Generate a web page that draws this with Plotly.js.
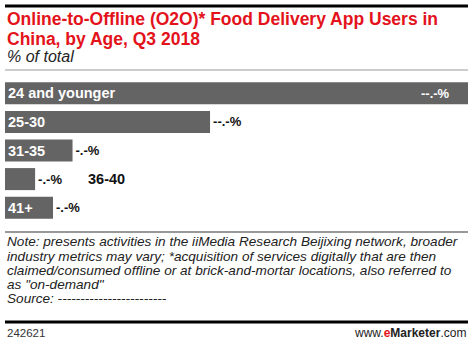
<!DOCTYPE html>
<html>
<head>
<meta charset="utf-8">
<script src="https://cdn.plot.ly/plotly-3.0.1.min.js"></script>
<style>html,body{margin:0;padding:0;background:#fff;}#chart{width:474px;height:345px;}</style>
</head>
<body>
<div id="chart"></div>
<script>
// ---- data ----
const categories = ["24 and younger", "25-30", "31-35", "36-40", "41+"];
const values = [56.9, 25.2, 8.3, 3.7, 5.9];           // estimated (reference hides values)
const valueLabels = ["--.-%", "--.-%", "-.-%", "-.-%", "-.-%"];
const titleLines = ["Online-to-Offline (O2O)* Food Delivery App Users in", "China, by Age, Q3 2018"];
const subtitle = "% of total";
const noteLines = [
  "Note: presents activities in the iiMedia Research Beijixing network, broader",
  "industry metrics may vary; *acquisition of services digitally that are then",
  "claimed/consumed offline or at brick-and-mortar locations, also referred to",
  "as \"on-demand\"",
  "Source: ------------------------"
];
const chartId = "242621";

// ---- layout helpers ----
const W = 474, H = 345;
const M = {l: 5, r: 6, t: 79, b: 123};
const plotH = H - M.t - M.b, plotW = W - M.l - M.r;
const py = y => (H - M.b - y) / plotH;   // pixel y -> paper y
const px = x => (x - M.l) / plotW;        // pixel x -> paper x

const FONT = "Liberation Sans, Arial, sans-serif";
const barColor = "#646464";
const red = "#e3121b";

const trace = {
  type: "bar",
  orientation: "h",
  y: categories,
  x: values,
  marker: {color: barColor, line: {width: 0}},
  text: valueLabels.map((t, i) => i === 0 ? "" : t),
  textposition: "outside",
  textfont: {family: FONT, size: 13, color: "#111111", weight: "bold"},
  cliponaxis: false,
  hoverinfo: "none"
};

const annotations = [];
// value label inside the longest bar
annotations.push({
  text: "<b>" + valueLabels[0] + "</b>", xref: "x", yref: "y", x: values[0], y: categories[0],
  xanchor: "right", yanchor: "middle", showarrow: false, xshift: -16,
  font: {family: FONT, size: 13, color: "#ffffff"}
});
// title lines
const titleY = [19.3, 39.0];
titleLines.forEach((t, i) => annotations.push({
  text: "<b>" + t + "</b>", xref: "paper", yref: "paper", x: px(5), y: py(titleY[i]),
  xanchor: "left", yanchor: "middle", showarrow: false,
  font: {family: FONT, size: 17.5, color: red}
}));
annotations.push({
  text: "<i>" + subtitle + "</i>", xref: "paper", yref: "paper", x: px(5), y: py(56.5),
  xanchor: "left", yanchor: "middle", showarrow: false,
  font: {family: FONT, size: 16, color: "#222"}
});
// category labels
categories.forEach((c, i) => {
  const inside = i !== 3;
  annotations.push({
    text: "<b>" + c + "</b>", xref: "x", yref: "y", x: inside ? 0 : values[i], y: c,
    xanchor: "left", yanchor: "middle", showarrow: false,
    xshift: inside ? 1 : 51,
    font: {family: FONT, size: 14.5, color: inside ? "#ffffff" : "#111111"}
  });
});
// notes
const noteY = [241.7, 256.0, 270.2, 284.2, 298.3];
noteLines.forEach((t, i) => annotations.push({
  text: "<i>" + t + "</i>", xref: "paper", yref: "paper", x: px(5), y: py(noteY[i]),
  xanchor: "left", yanchor: "middle", showarrow: false,
  font: {family: FONT, size: 13.6, color: "#222"}
}));
// footer
annotations.push({
  text: chartId, xref: "paper", yref: "paper", x: px(5), y: py(333),
  xanchor: "left", yanchor: "middle", showarrow: false,
  font: {family: FONT, size: 11.5, color: "#333"}
});
annotations.push({
  text: "www.<b><span style='color:" + red + "'>e</span>Marketer</b>.com", xref: "paper", yref: "paper", x: px(468), y: py(333),
  xanchor: "right", yanchor: "middle", showarrow: false,
  font: {family: FONT, size: 12, color: "#222"}
});

const shapes = [
  {type: "line", xref: "paper", yref: "paper", x0: px(5), x1: px(468), y0: py(6), y1: py(6), line: {color: "#000", width: 3}},
  {type: "line", xref: "paper", yref: "paper", x0: px(5), x1: px(468), y0: py(70), y1: py(70), line: {color: "#999", width: 1}},
  {type: "line", xref: "paper", yref: "paper", x0: px(5), x1: px(468), y0: py(232), y1: py(232), line: {color: "#777", width: 1.5}},
  {type: "line", xref: "paper", yref: "paper", x0: px(5), x1: px(468), y0: py(322), y1: py(322), line: {color: "#000", width: 3}}
];

const layout = {
  width: W, height: H,
  margin: M,
  paper_bgcolor: "#fff", plot_bgcolor: "#fff",
  showlegend: false,
  bargap: 0.23,
  xaxis: {range: [0, values[0]], visible: false, fixedrange: true},
  yaxis: {autorange: "reversed", visible: false, fixedrange: true, type: "category"},
  annotations: annotations,
  shapes: shapes,
  font: {family: FONT}
};

Plotly.newPlot("chart", [trace], layout, {staticPlot: true, displayModeBar: false});
</script>
</body>
</html>
